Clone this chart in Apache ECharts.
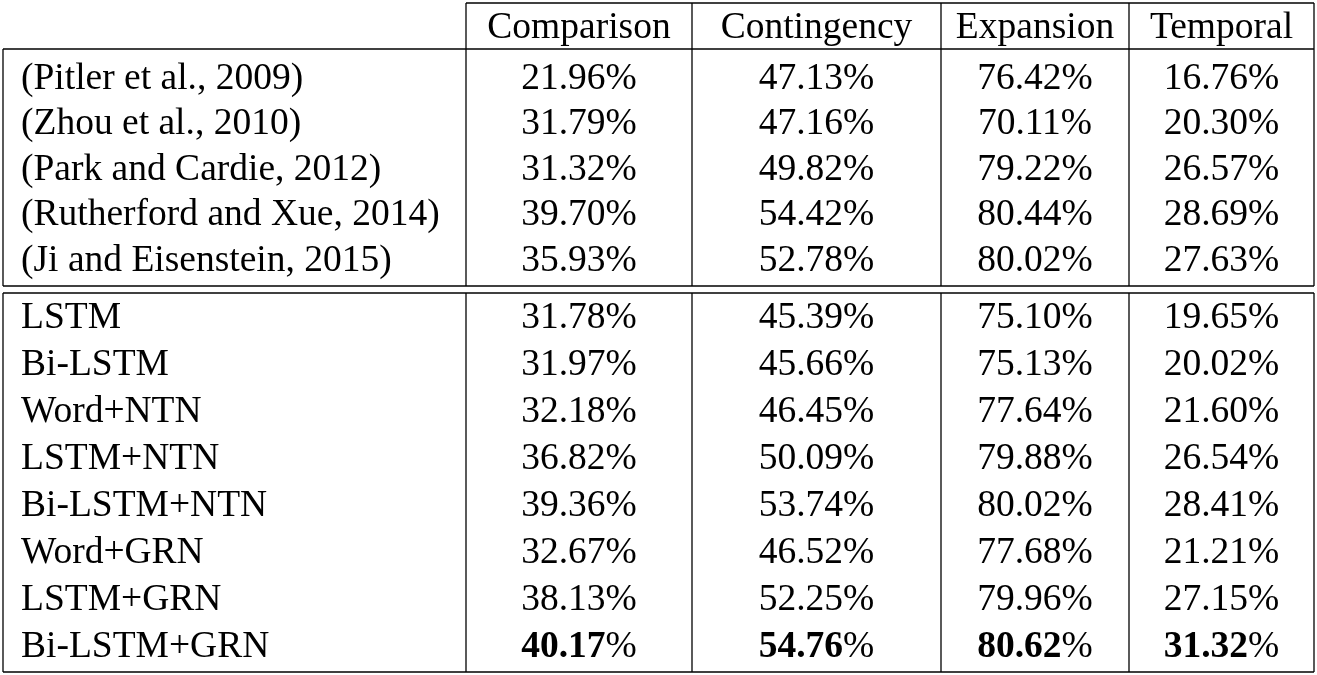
<!DOCTYPE html>
<html>
<head>
<meta charset="utf-8">
<script src="https://cdn.jsdelivr.net/npm/echarts@6/dist/echarts.min.js"></script>
<style>
  html, body { margin: 0; padding: 0; background: #fff; }
  #main { width: 1317px; height: 675px; }
</style>
</head>
<body>
<div id="main"></div>
<script>
// 表格数据
var headers = ['Comparison', 'Contingency', 'Expansion', 'Temporal'];
var baselineNames = ['(Pitler et al., 2009)', '(Zhou et al., 2010)', '(Park and Cardie, 2012)',
    '(Rutherford and Xue, 2014)', '(Ji and Eisenstein, 2015)'];
var baselineValues = [
    ['21.96', '47.13', '76.42', '16.76'],
    ['31.79', '47.16', '70.11', '20.30'],
    ['31.32', '49.82', '79.22', '26.57'],
    ['39.70', '54.42', '80.44', '28.69'],
    ['35.93', '52.78', '80.02', '27.63']
];
var modelNames = ['LSTM', 'Bi-LSTM', 'Word+NTN', 'LSTM+NTN', 'Bi-LSTM+NTN', 'Word+GRN', 'LSTM+GRN', 'Bi-LSTM+GRN'];
var modelValues = [
    ['31.78', '45.39', '75.10', '19.65'],
    ['31.97', '45.66', '75.13', '20.02'],
    ['32.18', '46.45', '77.64', '21.60'],
    ['36.82', '50.09', '79.88', '26.54'],
    ['39.36', '53.74', '80.02', '28.41'],
    ['32.67', '46.52', '77.68', '21.21'],
    ['38.13', '52.25', '79.96', '27.15'],
    ['40.17', '54.76', '80.62', '31.32']
];
var boldRow = 7;

var font = '"Liberation Serif", "Times New Roman", serif';
var fs = 37.5;
var colX = [3, 466, 692, 941, 1129, 1314];
var lineStyle = { stroke: '#000', lineWidth: 1.3 };

var els = [];
function hline(y, x1, x2) {
    els.push({ type: 'line', shape: { x1: x1, y1: y, x2: x2, y2: y }, style: lineStyle });
}
function vline(x, y1, y2) {
    els.push({ type: 'line', shape: { x1: x, y1: y1, x2: x, y2: y2 }, style: lineStyle });
}
function txt(x, y, s, align, rich) {
    els.push({
        type: 'text', x: x, y: y,
        style: {
            text: s, fill: '#000', font: fs + 'px ' + font,
            align: align, verticalAlign: 'middle', rich: rich
        }
    });
}
var richPct = {
    b: { fontWeight: 'bold', fontSize: fs, fontFamily: font, fill: '#000' },
    n: { fontSize: fs, fontFamily: font, fill: '#000' }
};

// 线
hline(3, 466, 1314);
hline(49, 3, 1314);
hline(286, 3, 1314);
hline(293, 3, 1314);
hline(672, 3, 1314);
colX.forEach(function (x, i) {
    vline(x, i === 0 ? 49 : 3, 286);
    vline(x, 293, 672);
});

// 表头
headers.forEach(function (h, j) {
    txt((colX[j + 1] + colX[j + 2]) / 2, 28, h, 'center');
});

function drawRows(names, values, y0, step, boldIdx) {
    names.forEach(function (n, i) {
        var y = y0 + i * step;
        txt(21, y, n, 'left');
        values[i].forEach(function (v, j) {
            var cx = (colX[j + 1] + colX[j + 2]) / 2;
            if (i === boldIdx) {
                els.push({
                    type: 'text', x: cx, y: y,
                    style: { text: '{b|' + v + '}{n|%}', rich: richPct, align: 'center', verticalAlign: 'middle' }
                });
            } else {
                txt(cx, y, v + '%', 'center');
            }
        });
    });
}
drawRows(baselineNames, baselineValues, 79, 45.5, -1);
drawRows(modelNames, modelValues, 318, 47, boldRow);

var myChart = echarts.init(document.getElementById('main'));
myChart.setOption({ animation: false, graphic: { elements: els } });
</script>
</body>
</html>
